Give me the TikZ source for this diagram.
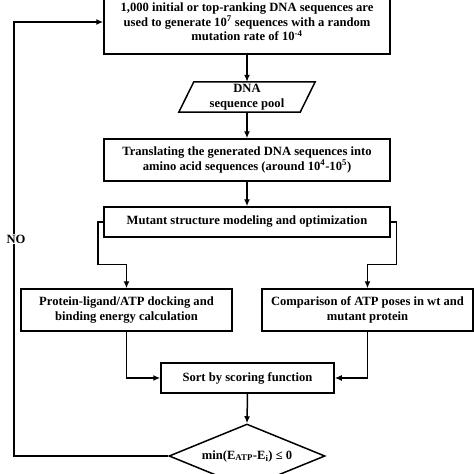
\documentclass[tikz,border=0pt]{standalone}
\usepackage{fontspec}
\setmainfont{Liberation Serif}
\usetikzlibrary{shapes.geometric,arrows.meta,calc}
\begin{document}
\begin{tikzpicture}[x=1pt,y=-1pt,
  every node/.style={font=\bfseries\fontsize{12.6}{14.5}\selectfont},
  box/.style={draw, line width=1.5pt, fill=white, align=center, inner sep=0pt},
  arr/.style={line width=1.5pt, -{Latex[length=7pt,width=6pt]}},
  ln/.style={line width=1.5pt}]
\useasboundingbox (0,0) rectangle (474,474);
\node[box, minimum width=286pt, minimum height=64pt] (b1) at (247,22)
  {1,000 initial or top-ranking DNA sequences are\\used to generate 10\textsuperscript{7} sequences with a random\\mutation rate of 10\textsuperscript{-4}};
\node[align=center, inner sep=0pt, minimum width=136pt, minimum height=30pt] (pool) at (247,97) {DNA\\sequence pool};
\draw[ln] (pool.south west) -- ($(pool.south east)+(-15,0)$) -- (pool.north east) -- ($(pool.north west)+(15,0)$) -- cycle;
\node[box, minimum width=286pt, minimum height=42pt] (b3) at (247,160)
  {Translating the generated DNA sequences into\\amino acid sequences (around 10\textsuperscript{4}-10\textsuperscript{5})};
\node[box, minimum width=286pt, minimum height=30pt] (b4) at (247,222)
  {Mutant structure modeling and optimization};
\node[box, minimum width=211pt, minimum height=42pt] (b5) at (126.5,310)
  {Protein-ligand/ATP docking and\\binding energy calculation};
\node[box, minimum width=211pt, minimum height=42pt] (b6) at (367.5,310)
  {Comparison of ATP poses in wt and\\mutant protein};
\node[box, minimum width=173pt, minimum height=30pt] (b7) at (247.5,378)
  {Sort by scoring function};
\node[diamond, draw, line width=1.5pt, fill=white, inner sep=0pt, aspect=2.4,
  minimum width=156pt, minimum height=64pt] (d) at (247,456)
  {min(E\textsubscript{ATP}-E\textsubscript{i}) ≤ 0};
\draw[arr] (b1.south) -- (pool.north);
\draw[arr] (pool.south) -- (b3.north);
\draw[arr] (b3.south) -- (b4.north);
\draw[arr] (b4.west) -- ++(-5.5,0) |- ([yshift=24pt]b5.north) -- (b5.north);
\draw[arr] (b4.east) -- ++(5.5,0) |- ([yshift=24pt]b6.north) -- (b6.north);
\draw[arr] (b5.south) |- (b7.west);
\draw[arr] (b6.south) |- (b7.east);
\draw[arr] (b7.south) -- (d.north);
\coordinate (nox) at (14,456);
\draw[arr] (d.west) -- (nox) -- (nox |- b1.west) -- (b1.west);
\node[fill=white, inner sep=1pt] (no) at (16,239) {NO};
\end{tikzpicture}
\end{document}
